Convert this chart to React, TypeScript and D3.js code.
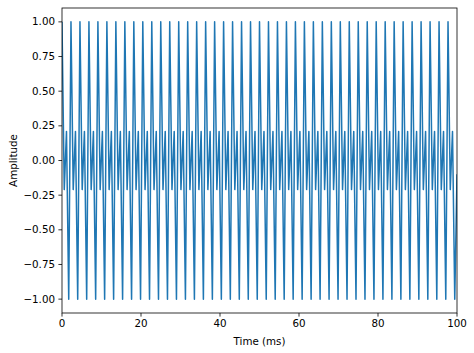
import React from "react";
import * as d3 from "d3";

const sampleRate = 1760;
const amplitude = [
  1, -0.21, 0.21, -1, 1, -0.21, 0.21, -1, 1, -0.21, 0.21, -1, 1, -0.21, 0.21, -1,
  1, -0.21, 0.21, -1, 1, -0.21, 0.21, -1, 1, -0.21, 0.21, -1, 1, -0.21, 0.21, -1,
  1, -0.21, 0.21, -1, 1, -0.21, 0.21, -1, 1, -0.21, 0.21, -1, 1, -0.21, 0.21, -1,
  1, -0.21, 0.21, -1, 1, -0.21, 0.21, -1, 1, -0.21, 0.21, -1, 1, -0.21, 0.21, -1,
  1, -0.21, 0.21, -1, 1, -0.21, 0.21, -1, 1, -0.21, 0.21, -1, 1, -0.21, 0.21, -1,
  1, -0.21, 0.21, -1, 1, -0.21, 0.21, -1, 1, -0.21, 0.21, -1, 1, -0.21, 0.21, -1,
  1, -0.21, 0.21, -1, 1, -0.21, 0.21, -1, 1, -0.21, 0.21, -1, 1, -0.21, 0.21, -1,
  1, -0.21, 0.21, -1, 1, -0.21, 0.21, -1, 1, -0.21, 0.21, -1, 1, -0.21, 0.21, -1,
  1, -0.21, 0.21, -1, 1, -0.21, 0.21, -1, 1, -0.21, 0.21, -1, 1, -0.21, 0.21, -1,
  1, -0.21, 0.21, -1, 1, -0.21, 0.21, -1, 1, -0.21, 0.21, -1, 1, -0.21, 0.21, -1,
  1, -0.21, 0.21, -1, 1, -0.21, 0.21, -1, 1, -0.21, 0.21, -1, 1, -0.21, 0.21, -1,
  -0.1,
];

const xTicks = [0, 20, 40, 60, 80, 100];
const yTicks = [-1, -0.75, -0.5, -0.25, 0, 0.25, 0.5, 0.75, 1];

const W = 474;
const H = 353;
const margin = { top: 8, right: 17, bottom: 40, left: 62 };
const font = "DejaVu Sans, sans-serif";

const fmtY = (v: number) => d3.format(".2f")(v).replace("-", "\u2212");

export default function App() {
  const x = d3.scaleLinear().domain([0, 100]).range([margin.left, W - margin.right]);
  const y = d3.scaleLinear().domain([-1.1, 1.1]).range([H - margin.bottom, margin.top]);

  const points = amplitude.map((a, i) => [(i * 1000) / sampleRate, a] as [number, number]);
  const line = d3
    .line<[number, number]>()
    .x((d) => x(d[0]))
    .y((d) => y(d[1]));

  const [x0, x1] = x.range();
  const [y0, y1] = y.range();

  return (
    <svg
      width={W}
      height={H}
      style={{ position: "absolute", left: 0, top: 0, background: "#fff" }}
      fontFamily={font}
    >
      <defs>
        <clipPath id="plot">
          <rect x={x0} y={y1} width={x1 - x0} height={y0 - y1} />
        </clipPath>
      </defs>
      <path
        d={line(points) ?? ""}
        fill="none"
        stroke="#1f77b4"
        strokeWidth={1.5}
        strokeLinejoin="round"
        clipPath="url(#plot)"
      />
      <rect x={x0} y={y1} width={x1 - x0} height={y0 - y1} fill="none" stroke="#000" strokeWidth={0.8} />

      {xTicks.map((t) => (
        <g key={t} transform={`translate(${x(t)},${y0})`}>
          <line y2={3.6} stroke="#000" strokeWidth={0.8} />
          <text y={14} textAnchor="middle" fontSize={10.3} fill="#000">
            {t}
          </text>
        </g>
      ))}
      {yTicks.map((t) => (
        <g key={t} transform={`translate(${x0},${y(t)})`}>
          <line x2={-3.6} stroke="#000" strokeWidth={0.8} />
          <text x={-7} dy="0.35em" textAnchor="end" fontSize={10.3} fill="#000">
            {fmtY(t)}
          </text>
        </g>
      ))}
      <text x={(x0 + x1) / 2} y={H - 8} textAnchor="middle" fontSize={10.3} fill="#000">
        Time (ms)
      </text>
      <text
        transform={`translate(17,${(y0 + y1) / 2}) rotate(-90)`}
        textAnchor="middle"
        fontSize={10.3}
        fill="#000"
      >
        Amplitude
      </text>
    </svg>
  );
}
